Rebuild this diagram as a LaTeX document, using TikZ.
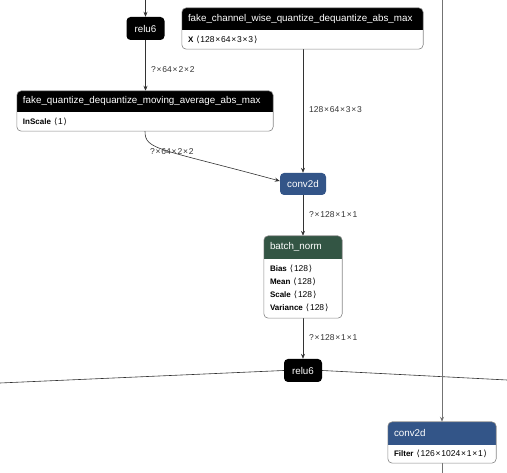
\documentclass[tikz,border=0pt]{standalone}
\usepackage{fontspec}
\setmainfont{Liberation Sans}
\newfontfamily\djv{DejaVu Sans}
\usetikzlibrary{arrows.meta,calc}
\definecolor{convblue}{HTML}{335588}
\definecolor{normgreen}{HTML}{335544}
\definecolor{edgecol}{HTML}{333333}
\definecolor{bordercol}{HTML}{888888}
\newcommand{\la}{\hspace{3pt}{\djv\fontsize{8.5}{10}\selectfont ⟨}\kern0.8pt}
\newcommand{\ra}{\kern0.8pt{\djv\fontsize{8.5}{10}\selectfont ⟩}}
\newcommand{\tx}{\kern0.8pt×\kern0.8pt}
\tikzset{
  opbox/.style={rectangle, rounded corners=4pt, inner sep=0pt, fill=black, text=white, font=\fontsize{9.8}{11}\selectfont},
  attrbox/.style={rectangle, inner sep=0pt},
  hdrtext/.style={anchor=west, text=white, inner sep=0pt, font=\fontsize{9.8}{11}\selectfont},
  attrtext/.style={anchor=west, inner sep=0pt, font=\fontsize{8}{10}\selectfont},
  elabel/.style={anchor=west, inner sep=0pt, text=edgecol, font=\fontsize{8.5}{10}\selectfont},
  edge/.style={draw=edgecol, line width=0.6pt, -{Stealth[length=5pt,width=4pt]}},
  plainedge/.style={draw=edgecol, line width=0.6pt},
  grayedge/.style={draw=gray!90!black, line width=0.8pt}
}
\newcommand{\attrframe}[3]{% node, header height, header color
  \begin{scope}
    \clip[rounded corners=4.5pt] (#1.north west) rectangle (#1.south east);
    \fill[white] (#1.north west) rectangle (#1.south east);
    \fill[#3] (#1.north west) rectangle ([yshift=-#2pt]#1.north east);
  \end{scope}
  \draw[bordercol, line width=0.6pt, rounded corners=4.5pt] (#1.north west) rectangle (#1.south east);
}
\newcommand{\val}[1]{{\fontsize{8.5}{10}\selectfont #1}}
\begin{document}
\begin{tikzpicture}[x=1pt,y=-1pt]
\useasboundingbox (0,0) rectangle (507,473);

% nodes
\node[opbox, minimum width=38pt, minimum height=23pt] (reluA) at (145.5,28.5) {relu6};
\node[attrbox, minimum width=256pt, minimum height=40pt] (fq) at (145,111) {};
\node[attrbox, minimum width=241pt, minimum height=41pt] (fc) at (302.5,28.5) {};
\node[opbox, fill=convblue, minimum width=46pt, minimum height=22pt] (convA) at (303,184) {conv2d};
\node[attrbox, minimum width=78pt, minimum height=82pt] (bn) at (303,277) {};
\node[opbox, minimum width=38pt, minimum height=23pt] (reluB) at (303,370.5) {relu6};
\node[attrbox, minimum width=108pt, minimum height=41pt] (convB) at (442,442.5) {};

\coordinate (topin) at (145.5,0);
\coordinate (rightin) at (442,0);
\coordinate (rightout) at (442,473);
\coordinate (leftout) at (0,383);
\coordinate (rightout2) at (507,380);

% edges
\draw[edge] (topin) -- (reluA.north);
\draw[edge] (reluA.south) -- (fq.north -| reluA.south);
\node[elabel] (lA) at (151,70) {?\tx64\tx2\tx2};
\draw[edge] (fq.south) .. controls (145,150) and (158,148) .. ([yshift=3pt]convA.west);
\node[elabel] (lB) at (150,152) {?\tx64\tx2\tx2};
\draw[edge] (fc.south -| convA.north) -- (convA.north);
\node[elabel] (lC) at (309,110) {128\tx64\tx3\tx3};
\draw[edge] (convA.south) -- (bn.north);
\node[elabel] (lD) at (309,215) {?\tx128\tx1\tx1};
\draw[edge] (bn.south) -- (reluB.north);
\node[elabel] (lE) at (309,338) {?\tx128\tx1\tx1};
\draw[plainedge] (reluB.west) -- (leftout);
\draw[plainedge] (reluB.east) -- (rightout2);
\draw[grayedge, -{Stealth[length=5pt,width=4pt]}] (rightin) -- (convB.north);
\draw[grayedge] (convB.south) -- (rightout);

% attribute boxes
\attrframe{fq}{21}{black}
\node[hdrtext] (fqh) at ([xshift=6pt,yshift=-10.5pt]fq.north west) {fake\_quantize\_dequantize\_moving\_average\_abs\_max};
\node[attrtext] (fqa) at ([xshift=6pt,yshift=-31.5pt]fq.north west) {\textbf{InScale}\la\val{1}\ra};

\attrframe{fc}{22}{black}
\node[hdrtext] (fch) at ([xshift=6pt,yshift=-11.5pt]fc.north west) {fake\_channel\_wise\_quantize\_dequantize\_abs\_max};
\node[attrtext] (fca) at ([xshift=6pt,yshift=-32pt]fc.north west) {\textbf{X}\la\val{128\tx64\tx3\tx3}\ra};

\attrframe{bn}{23}{normgreen}
\node[hdrtext] (bnh) at ([xshift=6pt,yshift=-11.5pt]bn.north west) {batch\_norm};
\node[attrtext] (bn1) at ([xshift=6pt,yshift=-33pt]bn.north west) {\textbf{Bias}\la\val{128}\ra};
\node[attrtext] (bn2) at ([xshift=6pt,yshift=-46pt]bn.north west) {\textbf{Mean}\la\val{128}\ra};
\node[attrtext] (bn3) at ([xshift=6pt,yshift=-59pt]bn.north west) {\textbf{Scale}\la\val{128}\ra};
\node[attrtext] (bn4) at ([xshift=6pt,yshift=-72.5pt]bn.north west) {\textbf{Variance}\la\val{128}\ra};

\attrframe{convB}{23}{convblue}
\node[hdrtext] (cbh) at ([xshift=6pt,yshift=-11.5pt]convB.north west) {conv2d};
\node[attrtext] (cba) at ([xshift=6pt,yshift=-32pt]convB.north west) {\textbf{Filter}\la\val{126\tx1024\tx1\tx1}\ra};
\end{tikzpicture}
\end{document}
